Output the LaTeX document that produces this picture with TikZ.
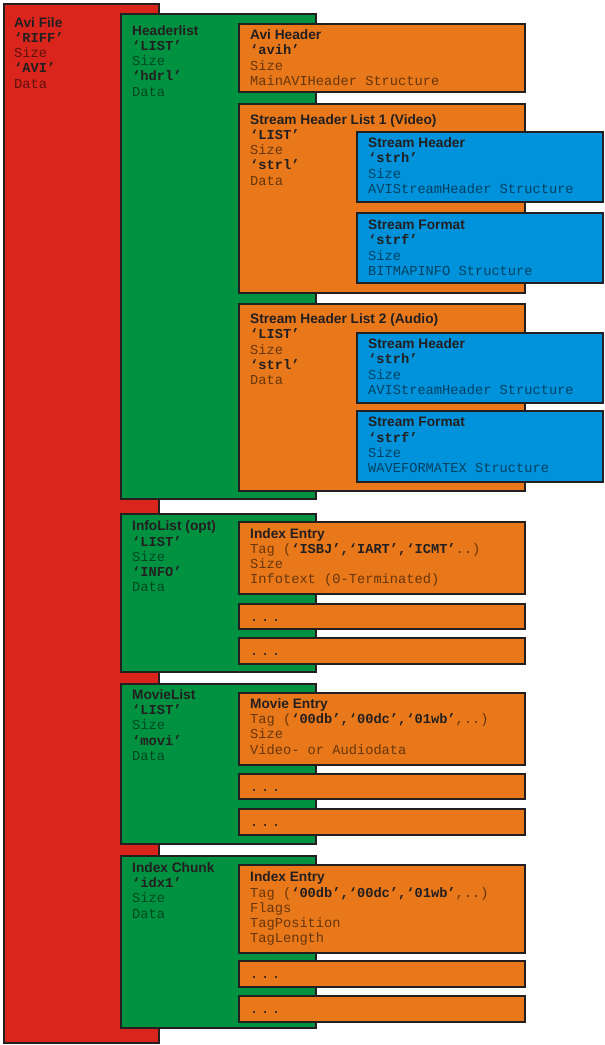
\documentclass[tikz,border=0pt]{standalone}
\usepackage{fontspec}
\setmainfont{Liberation Sans}
\setmonofont{Liberation Mono}
\definecolor{riffRed}{RGB}{218,37,29}
\definecolor{listGreen}{RGB}{0,146,64}
\definecolor{chunkOrange}{RGB}{232,120,26}
\definecolor{strBlue}{RGB}{0,146,218}
\definecolor{edgeGray}{RGB}{35,31,32}
\newcommand{\hd}[1]{{\rmfamily\bfseries\color{edgeGray}#1}}
\newcommand{\tg}[1]{{\bfseries\color{edgeGray}#1}}
\newcommand{\chunklines}[1]{\begin{tabular}[t]{@{}l@{}}#1\end{tabular}}
\newcommand{\moredots}{.\hspace{2.8pt}.\hspace{2.8pt}.}

\begin{document}
\begin{tikzpicture}[x = 1pt, y = -1pt,
		chunk/.style = {draw = edgeGray, line width = 2.4pt, anchor = north west, inner sep = 0pt},
		box/.style 2 args = {minimum width = #1, minimum height = #2},
		txt/.style = {anchor = base west, inner sep = 0pt, font = \fontsize{13.7}{15.3}\selectfont\ttfamily}]
		\useasboundingbox (0, 0) rectangle (605, 1045);
		%%%%%%%%%%%%% outer file
		\node [chunk, fill = riffRed, box = {155}{1039}] (riff) at (3, 3) {};
		\node [txt, text = riffRed!45!black] (riffTxt) at (14, 27) {\chunklines{\hd{Avi File}\\ \tg{‘RIFF’}\\ Size\\ \tg{‘AVI’}\\ Data}};
		%%%%%%%%%%%%% header list
		\node [chunk, fill = listGreen, box = {195}{485}] (hdrl) at (120, 13) {};
		\node [txt, text = listGreen!50!black] (hdrlTxt) at (132, 35) {\chunklines{\hd{Headerlist}\\ \tg{‘LIST’}\\ Size\\ \tg{‘hdrl’}\\ Data}};
		\node [chunk, fill = chunkOrange, box = {286}{68}] (avih) at (238, 23) {};
		\node [txt, text = chunkOrange!45!black] (avihTxt) at (250, 39.5) {\chunklines{\hd{Avi Header}\\ \tg{‘avih’}\\ Size\\ MainAVIHeader Structure}};
		% video stream
		\node [chunk, fill = chunkOrange, box = {286}{189}] (strlA) at (238, 103) {};
		\node [txt, text = chunkOrange!45!black] (strlATxt) at (250, 124) {\chunklines{\hd{Stream Header List 1 (Video)}\\ \tg{‘LIST’}\\ Size\\ \tg{‘strl’}\\ Data}};
		\node [chunk, fill = strBlue, box = {246}{70}] (strhA) at (356, 131) {};
		\node [txt, text = strBlue!45!black] (strhATxt) at (368, 147.5) {\chunklines{\hd{Stream Header}\\ \tg{‘strh’}\\ Size\\ AVIStreamHeader Structure}};
		\node [chunk, fill = strBlue, box = {246}{70}] (strfA) at (356, 212) {};
		\node [txt, text = strBlue!45!black] (strfATxt) at (368, 229.5) {\chunklines{\hd{Stream Format}\\ \tg{‘strf’}\\ Size\\ BITMAPINFO Structure}};
		% audio stream
		\node [chunk, fill = chunkOrange, box = {286}{187}] (strlB) at (238, 303) {};
		\node [txt, text = chunkOrange!45!black] (strlBTxt) at (250, 323.5) {\chunklines{\hd{Stream Header List 2 (Audio)}\\ \tg{‘LIST’}\\ Size\\ \tg{‘strl’}\\ Data}};
		\node [chunk, fill = strBlue, box = {246}{70}] (strhB) at (356, 332) {};
		\node [txt, text = strBlue!45!black] (strhBTxt) at (368, 348.5) {\chunklines{\hd{Stream Header}\\ \tg{‘strh’}\\ Size\\ AVIStreamHeader Structure}};
		\node [chunk, fill = strBlue, box = {246}{71}] (strfB) at (356, 410) {};
		\node [txt, text = strBlue!45!black] (strfBTxt) at (368, 426.7) {\chunklines{\hd{Stream Format}\\ \tg{‘strf’}\\ Size\\ WAVEFORMATEX Structure}};
		%%%%%%%%%%%%% info list
		\node [chunk, fill = listGreen, box = {195}{158}] (info) at (120, 513) {};
		\node [txt, text = listGreen!50!black] (infoTxt) at (132, 530.7) {\chunklines{\hd{InfoList (opt)}\\ \tg{‘LIST’}\\ Size\\ \tg{‘INFO’}\\ Data}};
		\node [chunk, fill = chunkOrange, box = {286}{72}] (infoEntry) at (238, 521) {};
		\node [txt, text = chunkOrange!45!black] (infoEntryTxt) at (250, 538) {\chunklines{\hd{Index Entry}\\ Tag (\tg{‘ISBJ’,‘IART’,‘ICMT’}..)\\ Size\\ Infotext (0-Terminated)}};
		\node [chunk, fill = chunkOrange, box = {286}{25}] (infoDotsA) at (238, 603) {};
		\node [txt, text = edgeGray] (infoDotsATxt) at (250, 621.7) {\moredots};
		\node [chunk, fill = chunkOrange, box = {286}{26}] (infoDotsB) at (238, 637) {};
		\node [txt, text = edgeGray] (infoDotsBTxt) at (250, 655.5) {\moredots};
		%%%%%%%%%%%%% movie list
		\node [chunk, fill = listGreen, box = {195}{160}] (movi) at (120, 683) {};
		\node [txt, text = listGreen!50!black] (moviTxt) at (132, 699.3) {\chunklines{\hd{MovieList}\\ \tg{‘LIST’}\\ Size\\ \tg{‘movi’}\\ Data}};
		\node [chunk, fill = chunkOrange, box = {286}{72}] (moviEntry) at (238, 692) {};
		\node [txt, text = chunkOrange!45!black] (moviEntryTxt) at (250, 708.3) {\chunklines{\hd{Movie Entry}\\ Tag (\tg{‘00db’,‘00dc’,‘01wb’},..)\\ Size\\ Video- or Audiodata}};
		\node [chunk, fill = chunkOrange, box = {286}{25}] (moviDotsA) at (238, 773) {};
		\node [txt, text = edgeGray] (moviDotsATxt) at (250, 791.7) {\moredots};
		\node [chunk, fill = chunkOrange, box = {286}{26}] (moviDotsB) at (238, 808) {};
		\node [txt, text = edgeGray] (moviDotsBTxt) at (250, 826.7) {\moredots};
		%%%%%%%%%%%%% index chunk
		\node [chunk, fill = listGreen, box = {195}{172}] (idx) at (120, 855) {};
		\node [txt, text = listGreen!50!black] (idxTxt) at (132, 872.3) {\chunklines{\hd{Index Chunk}\\ \tg{‘idx1’}\\ Size\\ Data}};
		\node [chunk, fill = chunkOrange, box = {286}{88}] (idxEntry) at (238, 864) {};
		\node [txt, text = chunkOrange!45!black] (idxEntryTxt) at (250, 881.7) {\chunklines{\hd{Index Entry}\\ Tag (\tg{‘00db’,‘00dc’,‘01wb’},..)\\ Flags\\ TagPosition\\ TagLength}};
		\node [chunk, fill = chunkOrange, box = {286}{26}] (idxDotsA) at (238, 960) {};
		\node [txt, text = edgeGray] (idxDotsATxt) at (250, 978.3) {\moredots};
		\node [chunk, fill = chunkOrange, box = {286}{26}] (idxDotsB) at (238, 995) {};
		\node [txt, text = edgeGray] (idxDotsBTxt) at (250, 1013.3) {\moredots};
\end{tikzpicture}
\end{document}
